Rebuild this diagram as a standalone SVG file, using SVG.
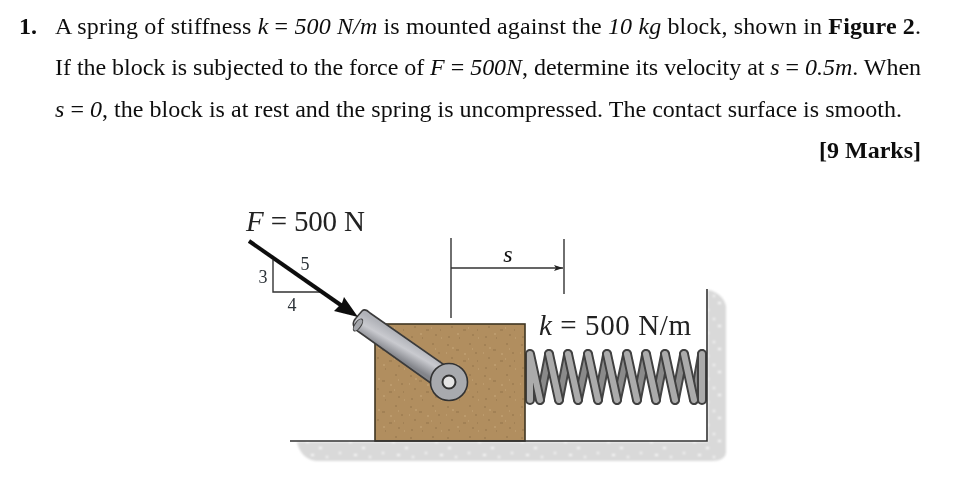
<svg xmlns="http://www.w3.org/2000/svg" width="969" height="481" viewBox="0 0 969 481">
<style>
text{font-family:"Liberation Serif","Times New Roman",serif;fill:#111}
.q{font-size:24px}
.i{font-style:italic}
.b{font-weight:bold}
.f{font-size:29px;fill:#222}
.n{font-size:18px;fill:#2c3238;text-anchor:middle}
.thin{stroke:#333;stroke-width:1.4;fill:none}
.back{stroke:#444;stroke-width:9.5;fill:none;stroke-linecap:round}
.backin{stroke:#8a8a8a;stroke-width:5.5;fill:none;stroke-linecap:round}
.front{stroke:#3f3f3f;stroke-width:10;fill:none;stroke-linecap:round}
.frontin{stroke:#ababab;stroke-width:6;fill:none;stroke-linecap:round}
.soft{filter:url(#soft)}
</style>
<defs>
<filter id="soft" filterUnits="userSpaceOnUse" x="0" y="0" width="969" height="481"><feGaussianBlur stdDeviation="0.45"/></filter>
<filter id="blur" filterUnits="userSpaceOnUse" x="0" y="0" width="969" height="481"><feGaussianBlur stdDeviation="1.2"/></filter>
<pattern id="sand" width="37" height="31" patternUnits="userSpaceOnUse">
<rect width="37" height="31" fill="#b18e5e"/>
<path d="M3 4h2M12 9h3M25 3h2M31 12h2M7 17h2M19 20h3M28 25h2M4 27h2M15 28h1M33 20h1" stroke="#94744a" stroke-width="1" fill="none"/>
<path d="M8 7h2M20 13h2M28 8h1M13 24h2M2 12h1M24 18h1M34 28h1" stroke="#c8a97c" stroke-width="1" fill="none"/>
</pattern>
<pattern id="shade" width="43" height="23" patternUnits="userSpaceOnUse">
<rect width="43" height="23" fill="#d9d9d9"/>
<path d="M5 5h3M18 11h3M30 4h3M38 16h2M10 18h3M25 20h2" stroke="#f8f8f8" stroke-width="2" fill="none"/>
</pattern>
<linearGradient id="rod" gradientUnits="userSpaceOnUse" x1="401" y1="335" x2="390" y2="354">
<stop offset="0" stop-color="#b0b2b8"/><stop offset="0.45" stop-color="#c9cacf"/><stop offset="1" stop-color="#83858b"/>
</linearGradient>
<marker id="tip" markerUnits="userSpaceOnUse" markerWidth="10" markerHeight="8" refX="9" refY="3" orient="auto"><path d="M0 0L9 3L0 6L2 3Z" fill="#222"/></marker>
</defs>
<rect width="969" height="481" fill="#fff"/>
<g id="question" class="soft">
<text class="q b" x="19" y="34">1.</text>
<text class="q" x="55" y="34" textLength="866" lengthAdjust="spacing">A spring of stiffness <tspan class="i">k</tspan> = <tspan class="i">500 N/m</tspan> is mounted against the <tspan class="i">10 kg</tspan> block, shown in <tspan class="b">Figure 2</tspan>.</text>
<text class="q" x="55" y="75" textLength="866" lengthAdjust="spacing">If the block is subjected to the force of <tspan class="i">F</tspan> = <tspan class="i">500N</tspan>, determine its velocity at <tspan class="i">s</tspan> = <tspan class="i">0.5m</tspan>. When</text>
<text class="q" x="55" y="117" textLength="847" lengthAdjust="spacing"><tspan class="i">s</tspan> = <tspan class="i">0</tspan>, the block is at rest and the spring is uncompressed. The contact surface is smooth.</text>
<text class="q b" x="921" y="158" text-anchor="end">[9 Marks]</text>
</g>
<g id="ground">
<path d="M297 442H708V290C716 291 724 297 726 306V452C726 458 720 461 712 461H316C306 460 299 452 297 442Z" fill="url(#shade)" filter="url(#blur)"/>
</g>
<g id="spring" class="soft">
<path class="back" d="M540 400L549 354M559 400L568 354M578 400L588 354M598 400L607 354M617 400L627 354M637 400L646 354M656 400L665 354M675 400L684 354M694 400L702 354"/>
<path class="backin" d="M540 400L549 354M559 400L568 354M578 400L588 354M598 400L607 354M617 400L627 354M637 400L646 354M656 400L665 354M675 400L684 354M694 400L702 354"/>
<path class="front" d="M530 354V400M530 354L540 400M549 354L559 400M568 354L578 400M588 354L598 400M607 354L617 400M627 354L637 400M646 354L656 400M665 354L675 400M684 354L694 400M702 354V400"/>
<path class="frontin" d="M530 354V400M530 354L540 400M549 354L559 400M568 354L578 400M588 354L598 400M607 354L617 400M627 354L637 400M646 354L656 400M665 354L675 400M684 354L694 400M702 354V400"/>
</g>
<g id="block" class="soft">
<rect x="375" y="324" width="150" height="117" fill="url(#sand)" stroke="#3f3524" stroke-width="1.6"/>
</g>
<g id="surface" class="soft">
<path d="M290 441H707V289" fill="none" stroke="#333" stroke-width="1.6"/>
</g>
<g id="handle" class="soft">
<path d="M370 313L443 364L432 384L359 332C352 328 352 322 356 318L362 311C364 309 367 310 370 313Z" fill="url(#rod)" stroke="#3a3a3a" stroke-width="1.6"/>
<ellipse cx="358" cy="325" rx="3" ry="7" transform="rotate(35 358 325)" fill="#a4a6ab" stroke="#3a3a3a" stroke-width="1"/>
<circle cx="449" cy="382" r="18.5" fill="#a8aaae" stroke="#333" stroke-width="1.6"/>
<circle cx="449" cy="382" r="6.5" fill="#e4e4e4" stroke="#333" stroke-width="2"/>
</g>
<g id="force" class="soft">
<path d="M273 260V292H320" class="thin"/>
<path d="M249 241L345 308" stroke="#111" stroke-width="4" fill="none"/>
<path d="M358 317L334 311L342 303L344 297Z" fill="#111"/>
<text class="f" x="246" y="231" textLength="119"><tspan class="i">F</tspan> = 500 N</text>
<text class="n" x="263" y="283">3</text>
<text class="n" x="305" y="270">5</text>
<text class="n" x="292" y="311">4</text>
</g>
<g id="dimension" class="soft">
<path d="M451 238V318M564 239V294" class="thin"/>
<path d="M451 268H563" class="thin" marker-end="url(#tip)"/>
<text class="i" x="508" y="262" text-anchor="middle" font-size="24">s</text>
</g>
<g id="stiffness" class="soft">
<text class="f" x="539" y="335" textLength="152"><tspan class="i">k</tspan> = 500 N/m</text>
</g>
</svg>
